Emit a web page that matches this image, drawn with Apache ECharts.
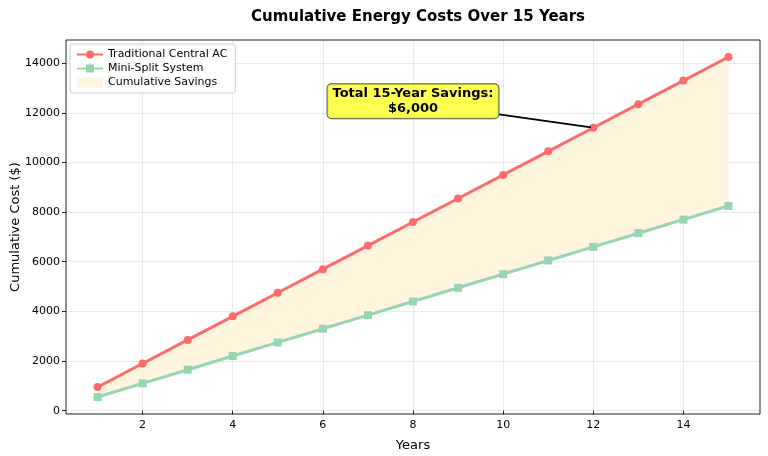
<!DOCTYPE html>
<html>
<head>
<meta charset="utf-8">
<script src="https://cdn.jsdelivr.net/npm/echarts@6/dist/echarts.min.js"></script>
<style>
html, body { margin: 0; padding: 0; background: #fff; }
#chart { width: 768px; height: 456px; }
</style>
</head>
<body>
<div id="chart"></div>
<script>
// data
var years = [1, 2, 3, 4, 5, 6, 7, 8, 9, 10, 11, 12, 13, 14, 15];
var traditionalAC = [950, 1900, 2850, 3800, 4750, 5700, 6650, 7600, 8550, 9500, 10450, 11400, 12350, 13300, 14250];
var miniSplit = [550, 1100, 1650, 2200, 2750, 3300, 3850, 4400, 4950, 5500, 6050, 6600, 7150, 7700, 8250];
var xTicks = [2, 4, 6, 8, 10, 12, 14];
var yTicks = [0, 2000, 4000, 6000, 8000, 10000, 12000, 14000];
var noteText = 'Total 15-Year Savings:\n$6,000';

function pairs(xs, ys){
	var out = [];
	for(var i = 0; i < xs.length; ++i){
		out.push([xs[i], ys[i]]);
	}
	return out;
}

var font = 'DejaVu Sans';
var red = '#ff6b6b';
var green = '#95d5b2';
var fillColor = '#fff5dd';

// polygon between the two lines, placed through the axes
function renderSavings(params, api){
	var pts = [];
	for(var i = 0; i < years.length; ++i){
		pts.push(api.coord([years[i], traditionalAC[i]]));
	}
	for(var j = years.length - 1; j >= 0; --j){
		pts.push(api.coord([years[j], miniSplit[j]]));
	}
	return {
		type: 'polygon',
		shape: { points: pts },
		style: { fill: fillColor }
	};
}

var option = {
	animation: false,
	textStyle: { fontFamily: font },
	title: {
		text: 'Cumulative Energy Costs Over 15 Years',
		left: 413,
		top: 5,
		textAlign: 'center',
		textStyle: { fontFamily: font, fontSize: 15, fontWeight: 'bold', color: '#000' }
	},
	grid: {
		left: 66, right: 8, top: 40, bottom: 42,
		outerBoundsMode: 'none',
		containLabel: false,
		show: true, borderColor: '#222', borderWidth: 1, backgroundColor: 'transparent'
	},
	legend: {
		left: 70, top: 44,
		orient: 'vertical',
		itemGap: 3,
		itemWidth: 26, itemHeight: 10,
		padding: [5, 8, 5, 6],
		borderColor: '#ccc', borderWidth: 1, borderRadius: 3,
		backgroundColor: 'rgba(255,255,255,0.8)',
		textStyle: { fontFamily: font, fontSize: 11, color: '#000' },
		data: [
			{ name: 'Traditional Central AC' },
			{ name: 'Mini-Split System' },
			{ name: 'Cumulative Savings', icon: 'rect' }
		]
	},
	xAxis: {
		type: 'value',
		min: 0.3, max: 15.7,
		name: 'Years', nameLocation: 'middle', nameGap: 25,
		nameMoveOverlap: false,
		nameTextStyle: { fontFamily: font, fontSize: 13, color: '#000' },
		axisLine: { show: false },
		axisTick: { show: true, inside: false, length: 4, lineStyle: { color: '#222' }, customValues: xTicks },
		axisLabel: { fontFamily: font, fontSize: 11, color: '#000', customValues: xTicks, margin: 6 },
		splitLine: { show: true, lineStyle: { color: 'rgba(0,0,0,0.08)', width: 1 } }
	},
	yAxis: {
		type: 'value',
		min: -135, max: 14935,
		name: 'Cumulative Cost ($)', nameLocation: 'middle', nameGap: 44,
		nameMoveOverlap: false,
		nameTextStyle: { fontFamily: font, fontSize: 13, color: '#000' },
		axisLine: { show: false },
		axisTick: { show: true, inside: false, length: 4, lineStyle: { color: '#222' }, customValues: yTicks },
		axisLabel: {
			fontFamily: font, fontSize: 11, color: '#000', customValues: yTicks, margin: 6,
			formatter: function(v){ return String(v); }
		},
		splitLine: { show: true, lineStyle: { color: 'rgba(0,0,0,0.08)', width: 1 } }
	},
	series: [
		{
			name: 'Cumulative Savings',
			type: 'custom',
			renderItem: renderSavings,
			data: [[years[0], miniSplit[0]]],
			itemStyle: { color: fillColor },
			silent: true,
			z: 1
		},
		{
			name: 'Traditional Central AC',
			type: 'line',
			data: pairs(years, traditionalAC),
			symbol: 'circle',
			symbolSize: 8,
			itemStyle: { color: red },
			lineStyle: { color: red, width: 3 },
			z: 3,
			markLine: {
				silent: true,
				animation: false,
				label: { show: false },
				lineStyle: { color: '#000', width: 1.8, type: 'solid' },
				symbolSize: [0, 11],
				data: [[
					{ coord: [9.87, 11944], symbol: 'none' },
					{ coord: [11.95, 11410], symbol: 'arrow' }
				]]
			},
			markPoint: {
				silent: true,
				symbol: 'rect',
				symbolSize: 0,
				data: [{ coord: [8.0, 12470], value: 0 }],
				label: {
					show: true,
					position: 'inside',
					formatter: noteText,
					fontFamily: font,
					fontSize: 13,
					fontWeight: 'bold',
					color: '#000',
					align: 'center',
					lineHeight: 15,
					backgroundColor: 'rgba(255,255,50,0.85)',
					borderColor: '#555',
					borderWidth: 1,
					borderRadius: 4,
					padding: [2, 5, 2, 5]
				}
			}
		},
		{
			name: 'Mini-Split System',
			type: 'line',
			data: pairs(years, miniSplit),
			symbol: 'rect',
			symbolSize: 8,
			itemStyle: { color: green },
			lineStyle: { color: green, width: 3 },
			z: 3
		}
	]
};

var myChart = echarts.init(document.getElementById('chart'));
myChart.setOption(option);
</script>
</body>
</html>
